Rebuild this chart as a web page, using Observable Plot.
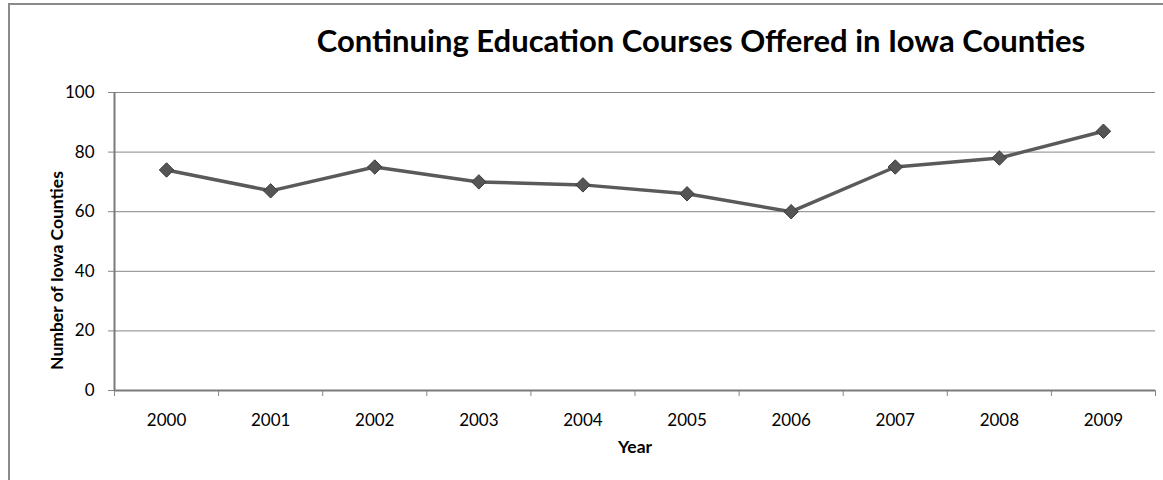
<!DOCTYPE html>
<html>
<head>
<meta charset="utf-8">
<script src="https://cdn.jsdelivr.net/npm/d3@7"></script>
<script src="https://cdn.jsdelivr.net/npm/@observablehq/plot@0.6"></script>
<style>
  html, body { margin: 0; padding: 0; background: #fff; }
  #wrap { position: relative; width: 1163px; height: 480px; overflow: hidden; font-family: Lato, "Open Sans", sans-serif; }
  #border { position: absolute; left: 8px; top: 3px; width: 1200px; height: 600px; border-left: 2px solid #8a8a8a; border-top: 2px solid #8a8a8a; box-sizing: border-box; }
  #title { position: absolute; left: 0; top: 22px; width: 1402px; text-align: center; font-weight: bold; font-size: 31px; line-height: 36px; color: #000; white-space: nowrap; }
  #chart { position: absolute; left: 0; top: 0; }
</style>
</head>
<body>
<div id="wrap">
  <div id="border"></div>
  <div id="title">Continuing Education Courses Offered in Iowa Counties</div>
  <div id="chart"></div>
</div>
<script>
const years = [2000, 2001, 2002, 2003, 2004, 2005, 2006, 2007, 2008, 2009];
const counts = [74, 67, 75, 70, 69, 66, 60, 75, 78, 87];
const yTicks = [0, 20, 40, 60, 80, 100];
const yLabel = "Number of Iowa Counties";
const xLabel = "Year";

const data = years.map((y, i) => ({year: y, value: counts[i]}));
const bounds = years.map(y => y - 0.5).concat([years[years.length - 1] + 0.5]);

const chart = Plot.plot({
  width: 1163,
  height: 480,
  marginLeft: 114,
  marginRight: 8,
  marginTop: 92,
  marginBottom: 90,
  style: {fontFamily: "Lato, 'Open Sans', sans-serif", fontSize: "17px", color: "#000", background: "transparent", overflow: "visible"},
  x: {type: "linear", domain: [bounds[0], bounds[bounds.length - 1]]},
  y: {domain: [0, 100]},
  marks: [
    Plot.gridY(yTicks, {stroke: "#868686", strokeOpacity: 1, strokeWidth: 1}),
    Plot.axisY(yTicks, {tickSize: 6, tickPadding: 14, stroke: "#868686", fontSize: 17, label: null}),
    Plot.axisX(years, {tickSize: 0, tickPadding: 23, tickFormat: d => String(d), fontSize: 17, label: null}),
    Plot.axisX(bounds, {tickSize: 6, tickFormat: () => "", stroke: "#868686", label: null}),
    Plot.ruleX([bounds[0]], {stroke: "#7a7a7a", strokeWidth: 2}),
    Plot.ruleY([0], {stroke: "#7a7a7a", strokeWidth: 2}),
    Plot.line(data, {x: "year", y: "value", stroke: "#5a5a5a", strokeWidth: 3.5}),
    Plot.dot(data, {x: "year", y: "value", symbol: "diamond2", r: 6.5, fill: "#555555", stroke: "#3c3c3c", strokeWidth: 1}),
    Plot.text([yLabel], {frameAnchor: "left", textAnchor: "middle", lineAnchor: "middle", dx: -57, dy: 29, rotate: -90, fontWeight: "bold", fontSize: 17.5}),
    Plot.text([xLabel], {frameAnchor: "bottom", textAnchor: "middle", lineAnchor: "middle", dy: 57, fontWeight: "bold", fontSize: 17.5})
  ]
});
document.getElementById("chart").appendChild(chart);
</script>
</body>
</html>
